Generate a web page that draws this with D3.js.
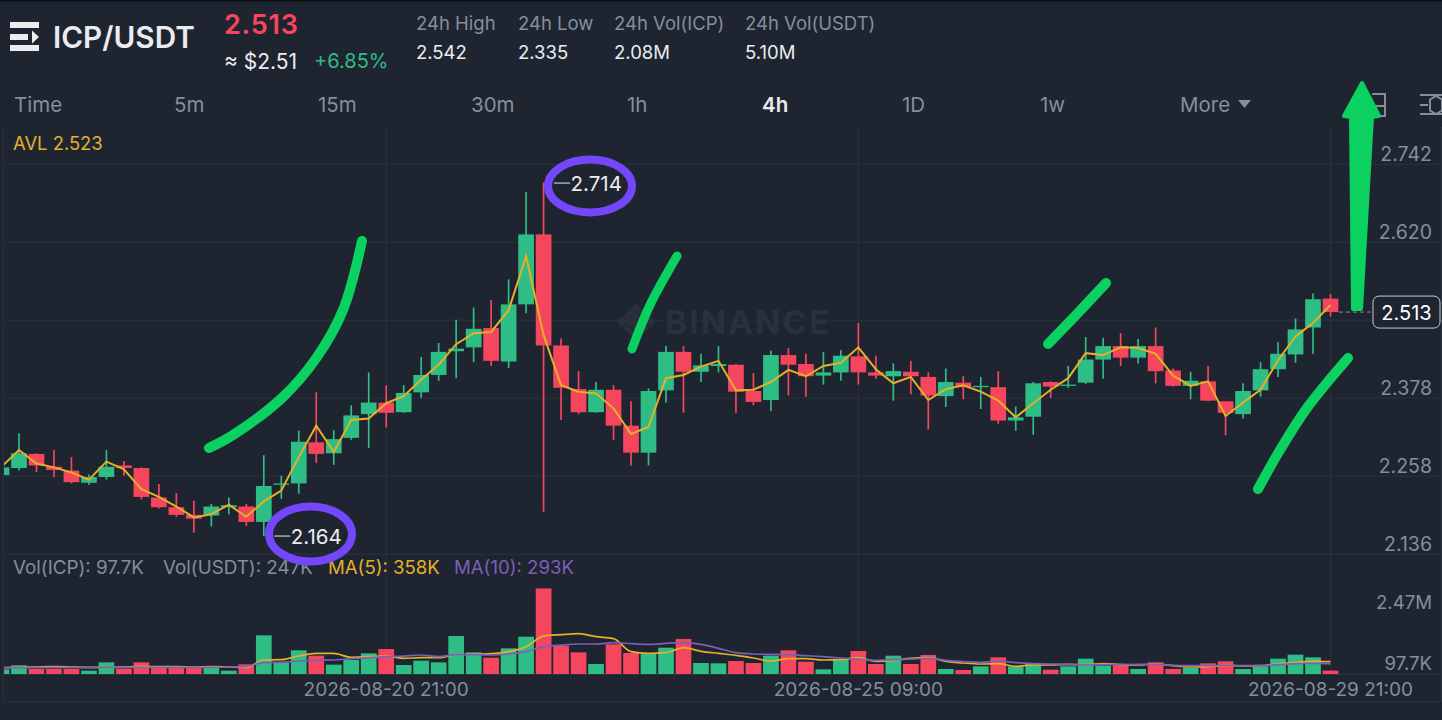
<!DOCTYPE html>
<html>
<head>
<meta charset="utf-8">
<title>ICP/USDT</title>
<script src="https://cdn.jsdelivr.net/npm/d3@7"></script>
<style>
  html, body { margin: 0; padding: 0; background: #1e2530; overflow: hidden; }
  svg { display: block; }
  text { font-family: Inter, "Noto Sans", sans-serif; }
</style>
</head>
<body>
<svg id="chart" width="1442" height="720"></svg>
<script>
// candle values, one entry per 4h candle
var opens = [2.259,2.270,2.292,2.272,2.266,2.247,2.256,2.274,2.270,2.224,2.209,2.197,2.196,2.209,2.210,2.186,2.244,2.246,2.310,2.293,2.317,2.354,2.372,2.357,2.388,2.415,2.452,2.458,2.488,2.436,2.525,2.634,2.461,2.393,2.357,2.392,2.336,2.294,2.391,2.451,2.420,2.429,2.431,2.390,2.376,2.446,2.432,2.414,2.419,2.444,2.419,2.413,2.420,2.412,2.382,2.403,2.396,2.396,2.344,2.350,2.404,2.398,2.403,2.439,2.460,2.442,2.460,2.422,2.398,2.405,2.374,2.354,2.391,2.424,2.447,2.489,2.534];
var closes = [2.271,2.293,2.274,2.267,2.248,2.256,2.272,2.270,2.225,2.209,2.197,2.191,2.210,2.212,2.186,2.242,2.246,2.311,2.292,2.315,2.352,2.372,2.356,2.387,2.415,2.451,2.456,2.487,2.437,2.525,2.634,2.461,2.395,2.357,2.392,2.336,2.294,2.390,2.451,2.420,2.430,2.432,2.389,2.373,2.446,2.431,2.413,2.419,2.445,2.419,2.414,2.421,2.413,2.383,2.404,2.396,2.398,2.344,2.349,2.402,2.397,2.400,2.439,2.460,2.442,2.460,2.421,2.398,2.406,2.375,2.356,2.390,2.424,2.448,2.486,2.533,2.513];
var highs = [2.275,2.324,2.293,2.298,2.287,2.260,2.298,2.281,2.271,2.245,2.231,2.219,2.214,2.224,2.214,2.290,2.258,2.328,2.388,2.329,2.368,2.419,2.399,2.399,2.443,2.465,2.501,2.520,2.532,2.564,2.700,2.715,2.472,2.421,2.404,2.399,2.374,2.394,2.460,2.460,2.448,2.460,2.432,2.418,2.453,2.457,2.448,2.451,2.454,2.496,2.445,2.433,2.437,2.419,2.425,2.413,2.412,2.421,2.366,2.404,2.405,2.429,2.474,2.473,2.480,2.471,2.489,2.425,2.420,2.429,2.374,2.402,2.435,2.466,2.503,2.542,2.541];
var lows = [2.259,2.266,2.264,2.256,2.246,2.244,2.252,2.258,2.221,2.207,2.194,2.169,2.179,2.198,2.180,2.164,2.222,2.230,2.278,2.275,2.314,2.301,2.333,2.356,2.379,2.406,2.410,2.435,2.429,2.426,2.511,2.202,2.345,2.354,2.356,2.314,2.274,2.274,2.372,2.356,2.404,2.419,2.356,2.368,2.359,2.383,2.381,2.400,2.406,2.400,2.409,2.375,2.385,2.330,2.365,2.377,2.362,2.339,2.328,2.322,2.379,2.395,2.401,2.409,2.429,2.433,2.402,2.397,2.377,2.374,2.321,2.347,2.381,2.412,2.434,2.448,2.506];
var avl = [2.272,2.298,2.277,2.271,2.263,2.252,2.280,2.268,2.237,2.225,2.210,2.193,2.198,2.213,2.194,2.218,2.235,2.287,2.336,2.295,2.345,2.347,2.371,2.382,2.408,2.431,2.463,2.480,2.482,2.516,2.600,2.477,2.399,2.389,2.386,2.363,2.323,2.334,2.410,2.415,2.428,2.437,2.391,2.392,2.404,2.423,2.413,2.429,2.434,2.458,2.424,2.402,2.412,2.376,2.393,2.399,2.389,2.375,2.349,2.371,2.392,2.410,2.449,2.446,2.458,2.457,2.448,2.414,2.398,2.405,2.351,2.372,2.392,2.438,2.475,2.496,2.524];

// volume pane, in thousands
var volumes = [134,250,144,144,144,96,336,154,336,202,182,202,202,96,278,1114,336,682,528,269,403,595,720,259,384,336,1094,624,470,739,1075,2467,816,624,288,854,605,576,758,1008,317,307,374,317,528,682,355,134,432,662,288,528,288,547,144,115,221,480,221,298,125,221,442,240,259,144,336,144,173,307,365,144,221,442,557,480,97.7];
var ma5 = [182,192,202,211,202,192,192,202,211,211,211,202,211,202,192,403,413,518,595,595,480,499,518,451,470,470,557,566,586,643,787,1094,1133,1162,1075,1018,643,595,614,758,653,595,538,461,374,442,442,403,413,470,365,394,451,470,365,317,288,298,221,259,259,278,269,298,269,259,288,240,202,211,250,230,240,288,336,365,358];
var ma10 = [182,182,182,182,182,182,192,192,192,192,192,192,192,202,221,326,336,374,394,403,442,470,499,518,547,499,557,557,547,576,643,787,835,864,864,902,874,854,883,902,854,739,614,576,566,557,528,499,461,432,394,413,432,451,394,355,336,374,326,298,288,269,259,269,269,278,278,250,240,240,250,240,240,269,298,307,293];

// axis labels
var priceTicks = [2.7432,2.6218,2.5004,2.3790,2.2572,2.1358];
var priceLabels = ["2.742","2.620","","2.378","2.258","2.136"];
var timeLabels = ["2026-08-20 21:00","2026-08-25 09:00","2026-08-29 21:00"];
var timeIndex = [22,49,76];
var volLabels = [[2470,"2.47M"],[97.7,"97.7K"]];

// header
var tabs = [["Time",14],["5m",174],["15m",318],["30m",471],["1h",627],["4h",762],["1D",902],["1w",1040],["More",1180]];
var stats = [["24h High","2.542",416],["24h Low","2.335",518],["24h Vol(ICP)","2.08M",614],["24h Vol(USDT)","5.10M",745]];

var GREEN = "#2ebd85", RED = "#f6465d", GREY = "#848e9c", GRID = "#2b323d",
    YELLOW = "#e3b02a", PURPLE = "#7b5fb8", MARKER = "#0bd160", RING = "#7547fb";

var svg = d3.select("#chart");
var n = opens.length;

var x = d3.scaleLinear().domain([0, n - 1]).range([1.5, 1330.5]);
var y = d3.scaleLinear().domain([2.376, 2.742]).range([400, 165.1]);
var yVol = d3.scaleLinear().domain([0, 2470]).range([674, 588.3]);
var barW = 15.7;

svg.append("defs").append("clipPath").attr("id", "plot")
    .append("rect").attr("x", 4).attr("y", 127).attr("width", 1438).attr("height", 575);

svg.append("rect").attr("width", 1442).attr("height", 1.5).attr("fill", "#0b0e11");

// frame and grid
var grid = svg.append("g").attr("stroke", GRID).attr("stroke-width", 1).attr("fill", "none");
grid.selectAll(".h").data(priceTicks).join("line").attr("class", "h")
    .attr("x1", 4).attr("x2", 1442)
    .attr("y1", function(d) { return y(d); }).attr("y2", function(d) { return y(d); });
grid.selectAll(".v").data(timeIndex).join("line").attr("class", "v")
    .attr("x1", function(d) { return x(d); }).attr("x2", function(d) { return x(d); })
    .attr("y1", 127).attr("y2", 674);
grid.append("line").attr("x1", 3.5).attr("x2", 3.5).attr("y1", 127).attr("y2", 702);
grid.append("line").attr("x1", 4).attr("x2", 1442).attr("y1", 674.5).attr("y2", 674.5);
grid.append("line").attr("x1", 4).attr("x2", 1442).attr("y1", 702).attr("y2", 702);
grid.append("line").attr("x1", 1441.5).attr("x2", 1441.5).attr("y1", 127).attr("y2", 702);

// watermark
var wm = svg.append("g").attr("fill", "#2a313c");
wm.append("text").attr("x", 665).attr("y", 334).attr("font-size", 33).attr("font-weight", 700)
    .attr("letter-spacing", 2.3).text("BINANCE");
[[636,322,7],[622,322,4],[650,322,4]].forEach(function(s) {
    wm.append("rect").attr("x", s[0] - s[2]).attr("y", s[1] - s[2]).attr("width", s[2] * 2).attr("height", s[2] * 2)
        .attr("transform", "rotate(45 " + s[0] + " " + s[1] + ")");
});
wm.append("path").attr("d", "M636 303l13 13-4 4-9-9-9 9-4-4zM636 341l13-13-4-4-9 9-9-9-4 4z");

var plot = svg.append("g").attr("clip-path", "url(#plot)");
var idx = d3.range(n);
function colour(i) { return closes[i] >= opens[i] ? GREEN : RED; }

// candles
plot.append("g").selectAll("line").data(idx).join("line")
    .attr("x1", function(i) { return x(i); }).attr("x2", function(i) { return x(i); })
    .attr("y1", function(i) { return y(highs[i]); }).attr("y2", function(i) { return y(lows[i]); })
    .attr("stroke", colour).attr("stroke-width", 1.7);
plot.append("g").selectAll("rect").data(idx).join("rect")
    .attr("x", function(i) { return x(i) - barW / 2; })
    .attr("width", barW)
    .attr("y", function(i) { return y(Math.max(opens[i], closes[i])); })
    .attr("height", function(i) { return Math.max(1.2, Math.abs(y(opens[i]) - y(closes[i]))); })
    .attr("fill", colour);

var avlLine = d3.line().x(function(d, i) { return x(i); }).y(function(d) { return y(d); });
plot.append("path").attr("d", avlLine(avl)).attr("fill", "none").attr("stroke", YELLOW).attr("stroke-width", 2);

// volume bars
plot.append("g").selectAll("rect").data(idx).join("rect")
    .attr("x", function(i) { return x(i) - barW / 2; })
    .attr("width", barW)
    .attr("y", function(i) { return yVol(volumes[i]); })
    .attr("height", function(i) { return 674 - yVol(volumes[i]); })
    .attr("fill", colour);

var volLine = d3.line().x(function(d, i) { return x(i); }).y(function(d) { return yVol(d); }).curve(d3.curveMonotoneX);
plot.append("path").attr("d", volLine(ma5)).attr("fill", "none").attr("stroke", YELLOW).attr("stroke-width", 1.7);
plot.append("path").attr("d", volLine(ma10)).attr("fill", "none").attr("stroke", PURPLE).attr("stroke-width", 1.7);

// axis labels
function label(tx, ty, str, size, fill, anchor, weight) {
    return svg.append("text").attr("x", tx).attr("y", ty).attr("dy", "0.36em")
        .attr("font-size", size).attr("fill", fill)
        .attr("text-anchor", anchor || "start").attr("font-weight", weight || 400).text(str);
}
priceTicks.forEach(function(p, i) {
    if (priceLabels[i]) label(1432, y(p) - 10.5, priceLabels[i], 19.5, GREY, "end");
});
volLabels.forEach(function(v, i) {
    label(1432, i == 0 ? 602 : 663, v[1], 18.6, GREY, "end");
});
timeLabels.forEach(function(t, i) {
    label(x(timeIndex[i]), 689, t, 19, GREY, "middle");
});

// legends
label(13, 143, "AVL 2.523", 18.4, YELLOW);
label(13, 567, "Vol(ICP): 97.7K", 18.8, GREY);
label(163, 567, "Vol(USDT): 247K", 18.8, GREY);
label(328, 567, "MA(5): 358K", 18.6, YELLOW);
label(454, 567, "MA(10): 293K", 18.6, PURPLE);

// header
var icon = svg.append("g").attr("fill", "#eaecef");
icon.append("rect").attr("x", 10).attr("y", 22).attr("width", 29).attr("height", 6);
icon.append("rect").attr("x", 10).attr("y", 34).attr("width", 18).attr("height", 6);
icon.append("rect").attr("x", 10).attr("y", 45).attr("width", 29).attr("height", 6);
icon.append("path").attr("d", "M32 30.5L39 37L32 43.5Z");

label(53, 37, "ICP/USDT", 29.7, "#eaecef", "start", 600);
label(224, 24, "2.513", 27, RED, "start", 600).attr("letter-spacing", 0.8);
label(224, 61, "≈ $2.51", 21, "#eaecef");
label(314, 61, "+6.85%", 20, GREEN);
stats.forEach(function(s) {
    label(s[2], 23, s[0], 18.5, GREY);
    label(s[2], 52, s[1], 18.5, "#eaecef");
});
tabs.forEach(function(t) {
    var on = t[0] == "4h";
    label(t[1], 105, t[0], 20.5, on ? "#eaecef" : GREY, "start", on ? 600 : 400);
});
svg.append("path").attr("d", "M1238 100h13l-6.5 8z").attr("fill", GREY);

// top right icons, mostly under the arrow
var tools = svg.append("g").attr("fill", "none").attr("stroke", GREY).attr("stroke-width", 2);
tools.append("path").attr("d", "M1372 94h13v22h-13M1372 106h13");
tools.append("path").attr("d", "M1420 95h22M1420 105h8M1420 114h22");
tools.append("path").attr("d", "M1436 96l6 3.5v11l-6 3.5-6-3.5v-11z");

// extreme markers
function extreme(price, i) {
    var px = x(i) + 10.5, py = y(price);
    svg.append("line").attr("x1", px).attr("x2", px + 16).attr("y1", py).attr("y2", py)
        .attr("stroke", "#eaecef").attr("stroke-width", 1);
    label(px + 16.5, py + 1, price.toFixed(3), 20.5, "#eaecef");
}
extreme(d3.max(highs) - 0.001, 31);
extreme(d3.min(lows), 15);

// last price
var lastY = y(closes[n - 1]);
svg.append("line").attr("x1", 1339).attr("x2", 1373).attr("y1", lastY).attr("y2", lastY)
    .attr("stroke", GREY).attr("stroke-width", 1).attr("stroke-dasharray", "4 3");
svg.append("rect").attr("x", 1373).attr("y", lastY - 16).attr("width", 67).attr("height", 32).attr("rx", 6)
    .attr("fill", "#1e2530").attr("stroke", "#c9ccd1").attr("stroke-width", 1);
label(1406.5, lastY + 0.5, closes[n - 1].toFixed(3), 20, "#ffffff", "middle");

// hand drawn marks on top of the chart
var strokes = [
    { w: 10, pts: [[209,448],[233,435],[283,397],[317,357],[343,310],[362,241]] },
    { w: 9, pts: [[632,349],[650,305],[677,256]] },
    { w: 10, pts: [[1048,344],[1077,314],[1106,283]] },
    { w: 10, pts: [[1258,489],[1280,450],[1307,408],[1348,358]] }
];
var inkLine = d3.line().curve(d3.curveCatmullRom);
strokes.forEach(function(s) {
    svg.append("path").attr("d", inkLine(s.pts)).attr("fill", "none")
        .attr("stroke", MARKER).attr("stroke-width", s.w).attr("stroke-linecap", "round");
});
svg.append("path")
    .attr("d", "M1353 309L1351 117L1344 116L1362 83L1379 116L1372 117L1361 309Z")
    .attr("fill", MARKER).attr("stroke", MARKER).attr("stroke-width", 4).attr("stroke-linejoin", "round");

[[590,186,42,26.5],[310.5,534,41.5,27.5]].forEach(function(e) {
    svg.append("ellipse").attr("cx", e[0]).attr("cy", e[1]).attr("rx", e[2]).attr("ry", e[3])
        .attr("fill", "none").attr("stroke", RING).attr("stroke-width", 8);
});
</script>
</body>
</html>
